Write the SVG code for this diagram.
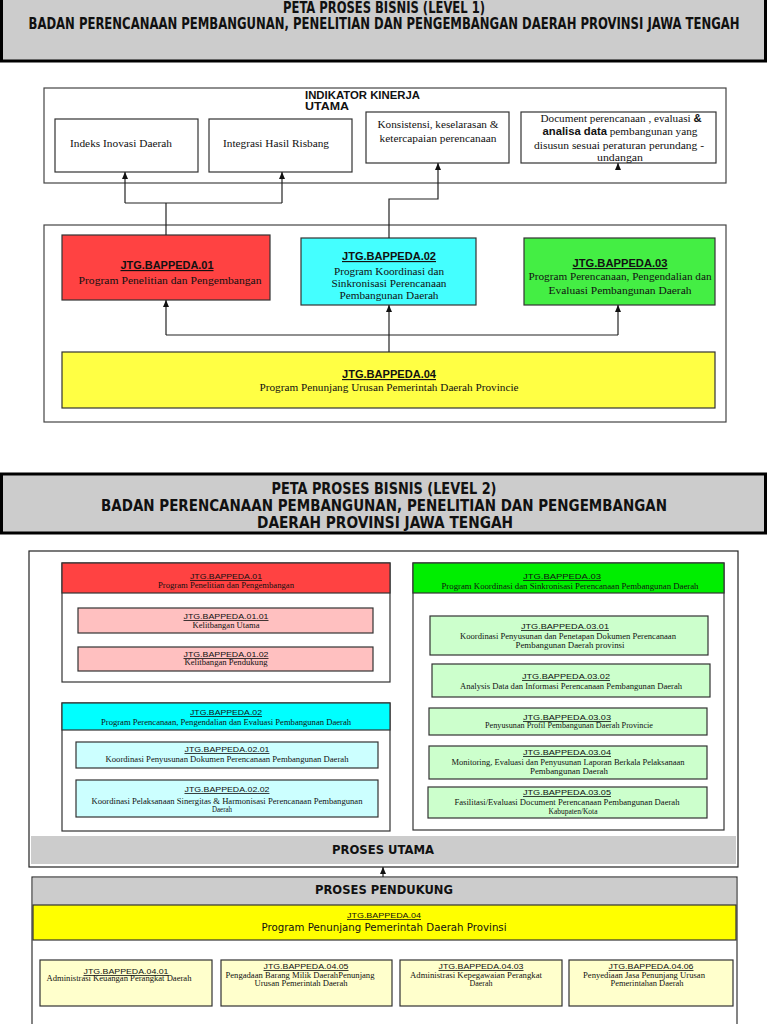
<svg xmlns="http://www.w3.org/2000/svg" width="768" height="1024" viewBox="0 0 768 1024">
<defs>
<marker id="ah" markerWidth="7" markerHeight="6" refX="7" refY="3" orient="auto" markerUnits="userSpaceOnUse">
<path d="M0,0 L7,3 L0,6 z" fill="#111"/>
</marker>
<style>
.hdr{font-family:"Liberation Sans Narrow","DejaVu Sans Condensed","Liberation Sans",Arial,sans-serif;font-weight:bold;font-size:15px;text-anchor:middle;fill:#111}
.ser{font-family:"Liberation Serif","Times New Roman",serif;font-size:10px;text-anchor:middle;fill:#111}
.lbl{font-family:"Liberation Sans",Arial,sans-serif;font-weight:bold;font-size:11px;fill:#111}
.c1{font-family:"Liberation Sans Narrow","Liberation Sans",Arial,sans-serif;font-weight:bold;font-size:11.5px;text-anchor:middle;text-decoration:underline;fill:#111}
.c2{font-family:"Liberation Sans",Arial,sans-serif;font-size:8px;text-anchor:middle;text-decoration:underline;fill:#111}
.t2{font-family:"Liberation Serif","Times New Roman",serif;font-size:7.5px;text-anchor:middle;fill:#111}
.bar{font-family:"Liberation Sans Narrow","DejaVu Sans Condensed","Liberation Sans",Arial,sans-serif;font-weight:bold;font-size:12.5px;text-anchor:middle;fill:#111}
.box{stroke:#333;stroke-width:1.2}
.frame{fill:#fff;stroke:#444;stroke-width:1.2}
.conn{fill:none;stroke:#222;stroke-width:1.2}
</style>
</defs>

<!-- LEVEL 1 -->
<g id="header1">
<rect x="1.5" y="-2" width="764" height="63" fill="#cccccc" stroke="#000" stroke-width="3"/>
<text class="hdr" x="384" y="12.5" font-size="14" textLength="202" lengthAdjust="spacingAndGlyphs">PETA PROSES BISNIS (LEVEL 1)</text>
<text class="hdr" x="384" y="29" textLength="711" lengthAdjust="spacingAndGlyphs">BADAN PERENCANAAN PEMBANGUNAN, PENELITIAN DAN PENGEMBANGAN DAERAH PROVINSI JAWA TENGAH</text>
</g>

<g id="iku">
<rect class="frame" x="44" y="88" width="682" height="95"/>
<text class="lbl" x="305" y="99" textLength="115" lengthAdjust="spacingAndGlyphs">INDIKATOR KINERJA</text>
<text class="lbl" x="305" y="110" textLength="44" lengthAdjust="spacingAndGlyphs">UTAMA</text>
</g>
<g id="iku1">
<rect class="box" x="55" y="119" width="143" height="53" fill="#fff"/>
<text class="ser" x="121" y="147" textLength="102" lengthAdjust="spacingAndGlyphs">Indeks Inovasi Daerah</text>
</g>
<g id="iku2">
<rect class="box" x="209" y="119" width="143" height="53" fill="#fff"/>
<text class="ser" x="276" y="147" textLength="106" lengthAdjust="spacingAndGlyphs">Integrasi Hasil Risbang</text>
</g>
<g id="iku3">
<rect class="box" x="366" y="112" width="143" height="51" fill="#fff"/>
<text class="ser" x="438" y="128" textLength="121" lengthAdjust="spacingAndGlyphs">Konsistensi, keselarasan &amp;</text>
<text class="ser" x="438" y="142" textLength="117" lengthAdjust="spacingAndGlyphs">ketercapaian perencanaan</text>
</g>
<g id="iku4">
<rect class="box" x="521" y="112" width="195" height="51" fill="#fff"/>
<text class="ser" x="621" y="122" textLength="161" lengthAdjust="spacingAndGlyphs">Document perencanaan , evaluasi <tspan font-family="Liberation Sans, Arial, sans-serif" font-weight="bold">&amp;</tspan></text>
<text class="ser" x="620" y="135" textLength="155" lengthAdjust="spacingAndGlyphs"><tspan font-family="Liberation Sans, Arial, sans-serif" font-weight="bold">analisa data</tspan> pembangunan yang</text>
<text class="ser" x="619" y="149" textLength="170" lengthAdjust="spacingAndGlyphs">disusun sesuai peraturan perundang -</text>
<text class="ser" x="620" y="161" textLength="46" lengthAdjust="spacingAndGlyphs">undangan</text>
</g>

<g id="programs1">
<rect class="frame" x="44" y="225" width="682" height="197"/>
</g>
<g id="p01">
<rect class="box" x="62" y="235" width="208" height="65" fill="#ff4242"/>
<text class="c1" x="167" y="269" textLength="93" lengthAdjust="spacingAndGlyphs">JTG.BAPPEDA.01</text>
<text class="ser" x="170" y="284" textLength="183" lengthAdjust="spacingAndGlyphs">Program Penelitian dan Pengembangan</text>
</g>
<g id="p02">
<rect class="box" x="301" y="238" width="175" height="67" fill="#44ffff"/>
<text class="c1" x="389" y="260" textLength="94" lengthAdjust="spacingAndGlyphs">JTG.BAPPEDA.02</text>
<text class="ser" x="389" y="275" textLength="110" lengthAdjust="spacingAndGlyphs">Program Koordinasi dan</text>
<text class="ser" x="389" y="287" textLength="115" lengthAdjust="spacingAndGlyphs">Sinkronisasi Perencanaan</text>
<text class="ser" x="389" y="299" textLength="99" lengthAdjust="spacingAndGlyphs">Pembangunan Daerah</text>
</g>
<g id="p03">
<rect class="box" x="524" y="238" width="191" height="67" fill="#44ee44"/>
<text class="c1" x="620" y="267" textLength="95" lengthAdjust="spacingAndGlyphs">JTG.BAPPEDA.03</text>
<text class="ser" x="620" y="280" textLength="183" lengthAdjust="spacingAndGlyphs">Program Perencanaan, Pengendalian dan</text>
<text class="ser" x="620" y="294" textLength="143" lengthAdjust="spacingAndGlyphs">Evaluasi Pembangunan Daerah</text>
</g>
<g id="p04">
<rect class="box" x="62" y="352" width="653" height="56" fill="#ffff44"/>
<text class="c1" x="389" y="378" textLength="94" lengthAdjust="spacingAndGlyphs">JTG.BAPPEDA.04</text>
<text class="ser" x="389" y="391" textLength="259" lengthAdjust="spacingAndGlyphs">Program Penunjang Urusan Pemerintah Daerah Provincie</text>
</g>

<g id="connectors1">
<path class="conn" d="M166,235 V203"/>
<path class="conn" d="M125,203 H282"/>
<path class="conn" d="M125,203 V172" marker-end="url(#ah)"/>
<path class="conn" d="M282,203 V172" marker-end="url(#ah)"/>
<path class="conn" d="M389,238 V199 H438 V163" marker-end="url(#ah)"/>
<path class="conn" d="M618,170 V163" marker-end="url(#ah)"/>
<path class="conn" d="M389,352 V305" marker-end="url(#ah)"/>
<path class="conn" d="M166,335 H618"/>
<path class="conn" d="M166,335 V300" marker-end="url(#ah)"/>
<path class="conn" d="M618,335 V305" marker-end="url(#ah)"/>
</g>

<!-- LEVEL 2 -->
<g id="header2">
<rect x="1.5" y="474" width="764" height="59" fill="#cccccc" stroke="#000" stroke-width="3"/>
<text class="hdr" x="384" y="494" font-size="15" textLength="225" lengthAdjust="spacingAndGlyphs">PETA PROSES BISNIS (LEVEL 2)</text>
<text class="hdr" x="384" y="511" font-size="15" textLength="566" lengthAdjust="spacingAndGlyphs">BADAN PERENCANAAN PEMBANGUNAN, PENELITIAN DAN PENGEMBANGAN</text>
<text class="hdr" x="385" y="528" font-size="15" textLength="256" lengthAdjust="spacingAndGlyphs">DAERAH PROVINSI JAWA TENGAH</text>
</g>

<g id="proses-utama">
<rect x="29" y="551" width="709" height="316" fill="#fff" stroke="#222" stroke-width="1.2"/>
<rect x="31" y="836" width="705" height="28" fill="#cccccc"/>
<text class="bar" x="383" y="854" textLength="102" lengthAdjust="spacingAndGlyphs">PROSES UTAMA</text>
</g>

<g id="g01">
<rect class="box" x="62" y="563" width="328" height="119" fill="#fff"/>
<rect class="box" x="62" y="563" width="328" height="30" fill="#ff4242"/>
<text class="c2" x="226" y="579" textLength="72" lengthAdjust="spacingAndGlyphs">JTG.BAPPEDA.01</text>
<text class="t2" x="226" y="588" textLength="136" lengthAdjust="spacingAndGlyphs">Program Penelitian dan Pengembangan</text>
</g>
<g id="g0101">
<rect class="box" x="78" y="608" width="295" height="25" fill="#ffc0c0"/>
<text class="c2" x="226" y="619" textLength="85" lengthAdjust="spacingAndGlyphs">JTG.BAPPEDA.01.01</text>
<text class="t2" x="226" y="628" textLength="67" lengthAdjust="spacingAndGlyphs">Kelitbangan Utama</text>
</g>
<g id="g0102">
<rect class="box" x="78" y="647" width="295" height="24" fill="#ffc0c0"/>
<text class="c2" x="226" y="657" textLength="85" lengthAdjust="spacingAndGlyphs">JTG.BAPPEDA.01.02</text>
<text class="t2" x="226" y="665" textLength="83" lengthAdjust="spacingAndGlyphs">Kelitbangan Pendukung</text>
</g>

<g id="g02">
<rect class="box" x="62" y="703" width="328" height="128" fill="#fff"/>
<rect class="box" x="62" y="703" width="328" height="27" fill="#00ffff"/>
<text class="c2" x="226" y="715" textLength="72" lengthAdjust="spacingAndGlyphs">JTG.BAPPEDA.02</text>
<text class="t2" x="226" y="725" textLength="250" lengthAdjust="spacingAndGlyphs">Program Perencanaan, Pengendalian dan Evaluasi Pembangunan Daerah</text>
</g>
<g id="g0201">
<rect class="box" x="76" y="742" width="302" height="26" fill="#ccffff"/>
<text class="c2" x="227" y="752" textLength="85" lengthAdjust="spacingAndGlyphs">JTG.BAPPEDA.02.01</text>
<text class="t2" x="227" y="762" textLength="243" lengthAdjust="spacingAndGlyphs">Koordinasi Penyusunan Dokumen Perencanaan Pembangunan Daerah</text>
</g>
<g id="g0202">
<rect class="box" x="76" y="780" width="302" height="37" fill="#ccffff"/>
<text class="c2" x="227" y="792" textLength="85" lengthAdjust="spacingAndGlyphs">JTG.BAPPEDA.02.02</text>
<text class="t2" x="227" y="804" textLength="271" lengthAdjust="spacingAndGlyphs">Koordinasi Pelaksanaan Sinergitas &amp; Harmonisasi Perencanaan Pembangunan</text>
<text class="t2" x="222" y="812" textLength="20" lengthAdjust="spacingAndGlyphs">Daerah</text>
</g>

<g id="g03">
<rect class="box" x="413" y="563" width="311" height="267" fill="#fff"/>
<rect class="box" x="413" y="563" width="311" height="30" fill="#00ee00"/>
<text class="c2" x="562" y="579" textLength="78" lengthAdjust="spacingAndGlyphs">JTG.BAPPEDA.03</text>
<text class="t2" x="570" y="589" textLength="257" lengthAdjust="spacingAndGlyphs">Program Koordinasi dan Sinkronisasi Perencanaan Pembangunan Daerah</text>
</g>
<g id="g0301">
<rect class="box" x="430" y="616" width="278" height="39" fill="#ccffcc"/>
<text class="c2" x="565" y="629" textLength="88" lengthAdjust="spacingAndGlyphs">JTG.BAPPEDA.03.01</text>
<text class="t2" x="568" y="639" textLength="216" lengthAdjust="spacingAndGlyphs">Koordinasi Penyusunan dan Penetapan Dokumen Perencanaan</text>
<text class="t2" x="570" y="648" textLength="109" lengthAdjust="spacingAndGlyphs">Pembangunan Daerah provinsi</text>
</g>
<g id="g0302">
<rect class="box" x="432" y="664" width="278" height="33" fill="#ccffcc"/>
<text class="c2" x="566" y="679" textLength="88" lengthAdjust="spacingAndGlyphs">JTG.BAPPEDA.03.02</text>
<text class="t2" x="571" y="689" textLength="222" lengthAdjust="spacingAndGlyphs">Analysis Data dan Informasi Perencanaan Pembangunan Daerah</text>
</g>
<g id="g0303">
<rect class="box" x="429" y="708" width="278" height="27" fill="#ccffcc"/>
<text class="c2" x="567" y="720" textLength="88" lengthAdjust="spacingAndGlyphs">JTG.BAPPEDA.03.03</text>
<text class="t2" x="569" y="728" textLength="168" lengthAdjust="spacingAndGlyphs">Penyusunan Profil Pembangunan Daerah Provincie</text>
</g>
<g id="g0304">
<rect class="box" x="429" y="746" width="278" height="33" fill="#ccffcc"/>
<text class="c2" x="567" y="755" textLength="88" lengthAdjust="spacingAndGlyphs">JTG.BAPPEDA.03.04</text>
<text class="t2" x="568" y="765" textLength="233" lengthAdjust="spacingAndGlyphs">Monitoring, Evaluasi dan Penyusunan Laporan Berkala Pelaksanaan</text>
<text class="t2" x="569" y="774" textLength="78" lengthAdjust="spacingAndGlyphs">Pembangunan Daerah</text>
</g>
<g id="g0305">
<rect class="box" x="428" y="787" width="279" height="31" fill="#ccffcc"/>
<text class="c2" x="567" y="795" textLength="88" lengthAdjust="spacingAndGlyphs">JTG.BAPPEDA.03.05</text>
<text class="t2" x="567" y="805" textLength="225" lengthAdjust="spacingAndGlyphs">Fasilitasi/Evaluasi Document Perencanaan Pembangunan Daerah</text>
<text class="t2" x="573" y="814" textLength="49" lengthAdjust="spacingAndGlyphs">Kabupaten/Kota</text>
</g>

<g id="proses-pendukung">
<rect x="32" y="877" width="705" height="160" fill="#fff" stroke="#333" stroke-width="1.2"/>
<rect x="33" y="878" width="703" height="27" fill="#cccccc"/>
<text class="bar" x="384" y="894" textLength="138" lengthAdjust="spacingAndGlyphs">PROSES PENDUKUNG</text>
</g>
<g id="g04">
<rect class="box" x="33" y="905" width="703" height="35" fill="#ffff00"/>
<text class="c2" x="384" y="918" textLength="74" lengthAdjust="spacingAndGlyphs">JTG.BAPPEDA.04</text>
<text x="384" y="931" font-family="DejaVu Sans, Verdana, sans-serif" font-size="10" text-anchor="middle" fill="#111" textLength="245" lengthAdjust="spacingAndGlyphs">Program Penunjang Pemerintah Daerah Provinsi</text>
</g>
<g id="g0401">
<rect class="box" x="40" y="960" width="172" height="46" fill="#ffffcc"/>
<text class="c2" x="126" y="974" textLength="85" lengthAdjust="spacingAndGlyphs">JTG.BAPPEDA.04.01</text>
<text class="t2" x="119" y="981" textLength="145" lengthAdjust="spacingAndGlyphs">Administrasi Keuangan Perangkat Daerah</text>
</g>
<g id="g0405">
<rect class="box" x="221" y="960" width="171" height="46" fill="#ffffcc"/>
<text class="c2" x="306" y="969" textLength="85" lengthAdjust="spacingAndGlyphs">JTG.BAPPEDA.04.05</text>
<text class="t2" x="300" y="978" textLength="149" lengthAdjust="spacingAndGlyphs">Pengadaan Barang Milik DaerahPenunjang</text>
<text class="t2" x="301" y="986" textLength="93" lengthAdjust="spacingAndGlyphs">Urusan Pemerintah Daerah</text>
</g>
<g id="g0403">
<rect class="box" x="400" y="960" width="162" height="46" fill="#ffffcc"/>
<text class="c2" x="481" y="969" textLength="85" lengthAdjust="spacingAndGlyphs">JTG.BAPPEDA.04.03</text>
<text class="t2" x="476" y="978" textLength="132" lengthAdjust="spacingAndGlyphs">Administrasi Kepegawaian Perangkat</text>
<text class="t2" x="481" y="986" textLength="23" lengthAdjust="spacingAndGlyphs">Daerah</text>
</g>
<g id="g0406">
<rect class="box" x="569" y="960" width="164" height="46" fill="#ffffcc"/>
<text class="c2" x="651" y="969" textLength="85" lengthAdjust="spacingAndGlyphs">JTG.BAPPEDA.04.06</text>
<text class="t2" x="644" y="978" textLength="122" lengthAdjust="spacingAndGlyphs">Penyediaan Jasa Penunjang Urusan</text>
<text class="t2" x="647" y="986" textLength="73" lengthAdjust="spacingAndGlyphs">Pemerintahan  Daerah</text>
</g>

<g id="connectors2">
<path class="conn" d="M383,877 V867" marker-end="url(#ah)"/>
</g>
</svg>
